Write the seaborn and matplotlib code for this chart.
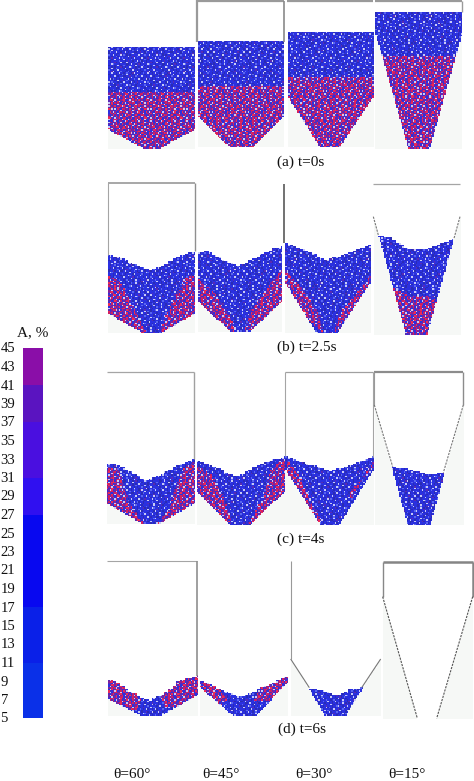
import numpy as np
import matplotlib
matplotlib.use("Agg")
import matplotlib.pyplot as plt
from matplotlib.colors import ListedColormap
from matplotlib.path import Path
import seaborn as sns

# ---------- data: colour bar ----------
scale_labels = list(range(45, 4, -2))
band_colors = ["#8a0ea8"] * 2 + ["#5a14c0"] * 2 + ["#4a0fe0"] * 3 + ["#3010f0"] * 2 + \
              ["#0808f0"] * 5 + ["#0a20e8"] * 3 + ["#0a30e8"] * 3
band_values = list(range(len(band_colors)))

# ---------- data: hopper geometry (3x crop units per row) ----------
row_origin = [(100, 0), (100, 180), (100, 370), (100, 555)]
# left, right, left shoulder y, right shoulder y, bottom y, outlet left, outlet right
hoppers = [
    [(24, 285, 388, 388, 445, 130, 178), (292, 552, 348, 348, 442, 390, 455),
     (562, 820, 288, 288, 442, 660, 718), (826, 1086, 100, 100, 447, 925, 988)],
    [(24, 285, 400, 400, 460, 130, 180), (292, 548, 360, 360, 455, 390, 450),
     (553, 812, 305, 305, 460, 650, 710), (820, 1080, 110, 110, 465, 918, 980)],
    [(20, 283, 400, 400, 460, 125, 178), (288, 553, 360, 365, 463, 388, 450),
     (556, 820, 298, 298, 463, 660, 718), (823, 1090, 105, 105, 465, 923, 990)],
    [(22, 292, 432, 420, 483, 128, 180), (297, 565, 395, 380, 483, 400, 465),
     (572, 842, 312, 312, 483, 675, 735), (848, 1118, 125, 125, 490, 952, 1010)],
]
# free surface of the bed
surfaces = [
    [[(24, 140), (285, 140)], [(292, 122), (552, 122)], [(562, 95), (820, 95)], [(826, 35), (1086, 35)]],
    [[(24, 225), (60, 232), (100, 250), (150, 272), (190, 255), (240, 225), (285, 213)],
     [(292, 215), (325, 213), (370, 240), (415, 258), (470, 230), (520, 205), (548, 197)],
     [(553, 188), (600, 205), (680, 238), (740, 220), (812, 195)],
     [(835, 165), (870, 172), (925, 208), (975, 208), (1058, 175)]],
    [[(20, 280), (50, 283), (100, 310), (140, 332), (190, 310), (240, 280), (283, 268)],
     [(288, 270), (330, 285), (410, 320), (480, 280), (553, 260)],
     [(560, 258), (620, 280), (690, 303), (750, 285), (820, 260)],
     [(878, 290), (920, 295), (980, 312), (1030, 308)]],
    [[(22, 372), (60, 385), (100, 415), (145, 437), (190, 415), (240, 375), (292, 362)],
     [(297, 372), (345, 395), (425, 425), (490, 395), (565, 362)],
     [(628, 398), (660, 405), (695, 418), (730, 415), (752, 400), (785, 398)],
     None],
]
# zones of the red-rich lower layer
red_zones = [
    [[[(0, 275), (300, 275), (300, 460), (0, 460)]],
     [[(280, 255), (560, 255), (560, 460), (280, 460)]],
     [[(550, 228), (830, 228), (830, 460), (550, 460)]],
     [[(815, 168), (1095, 168), (1095, 460), (815, 460)]]],
    [[[(24, 285), (60, 305), (100, 380), (135, 450), (130, 470), (24, 430)],
      [(285, 285), (255, 295), (225, 350), (195, 410), (175, 470), (285, 430)]],
     [[(292, 295), (345, 340), (390, 410), (410, 460), (292, 400)],
      [(548, 265), (510, 310), (455, 385), (430, 460), (548, 400)]],
     [[(553, 265), (610, 330), (655, 400), (670, 465), (553, 340)],
      [(812, 285), (760, 350), (715, 405), (700, 465), (812, 340)]],
     [[(880, 325), (920, 345), (980, 345), (1020, 365), (985, 470), (910, 470)]]],
    [[[(20, 285), (60, 300), (85, 395), (135, 465), (20, 430)],
      [(283, 275), (245, 300), (225, 355), (205, 415), (170, 465), (283, 430)]],
     [[(288, 285), (335, 315), (375, 395), (400, 465), (288, 400)],
      [(553, 262), (510, 300), (490, 380), (440, 465), (553, 400)]],
     [[(560, 270), (600, 320), (630, 390), (665, 450), (650, 465), (560, 340)],
      [(820, 270), (790, 320), (755, 385), (740, 375), (820, 290)]],
     []],
    [[[(22, 365), (70, 380), (125, 425), (110, 465), (22, 450)],
      [(292, 355), (235, 370), (180, 420), (200, 460), (292, 440)]],
     [[(297, 365), (350, 390), (385, 435), (360, 450), (297, 410)],
      [(565, 355), (485, 390), (460, 435), (510, 435), (565, 400)]],
     [],
     []],
]
# hopper wall segments: row, points, width, colour, style
walls = [
    (0, [(292, 0), (292, 125)], 1.6, "#9a9a9a", "-"), (0, [(292, 2), (552, 2)], 1.6, "#9a9a9a", "-"),
    (0, [(552, 2), (552, 125)], 1.2, "#8a8a8a", "-"), (0, [(562, 2), (820, 2)], 1.6, "#9a9a9a", "-"),
    (0, [(826, 3), (1086, 3)], 1.6, "#9a9a9a", "-"), (0, [(1086, 3), (1086, 35)], 1.0, "#9a9a9a", "-"),
    (1, [(24, 10), (285, 10)], 1.1, "#8f8f8f", "-"), (1, [(24, 10), (24, 225)], 0.8, "#a5a5a5", "-"),
    (1, [(285, 10), (285, 213)], 1.0, "#8f8f8f", "-"), (1, [(553, 12), (553, 190)], 1.1, "#4a4a4a", "-"),
    (1, [(820, 12), (1080, 12)], 0.9, "#a5a5a5", "-"),
    (1, [(820, 110), (835, 165)], 0.8, "#777777", (0, (2, 1))), (1, [(1080, 110), (1062, 175)], 0.8, "#777777", (0, (2, 1))),
    (2, [(20, 7), (283, 7)], 0.9, "#a5a5a5", "-"), (2, [(283, 7), (283, 268)], 1.0, "#a0a0a0", "-"),
    (2, [(556, 7), (820, 7)], 0.9, "#a0a0a0", "-"), (2, [(556, 7), (556, 258)], 0.8, "#a5a5a5", "-"),
    (2, [(820, 7), (820, 260)], 0.8, "#a5a5a5", "-"),
    (2, [(823, 5), (1090, 5)], 1.6, "#8c8c8c", "-"), (2, [(823, 5), (823, 105)], 0.8, "#999999", "-"),
    (2, [(1090, 5), (1090, 105)], 1.0, "#8c8c8c", "-"),
    (2, [(823, 105), (878, 290)], 0.8, "#777777", (0, (2, 1))), (2, [(1090, 105), (1030, 308)], 0.8, "#777777", (0, (2, 1))),
    (3, [(22, 17), (292, 17)], 0.8, "#a5a5a5", "-"), (3, [(292, 17), (292, 362)], 1.2, "#8f8f8f", "-"),
    (3, [(572, 17), (572, 312)], 0.8, "#999999", "-"), (3, [(572, 312), (628, 398)], 0.8, "#777777", "-"),
    (3, [(842, 312), (785, 398)], 0.8, "#777777", "-"),
    (3, [(848, 20), (1118, 20)], 1.8, "#858585", "-"), (3, [(848, 20), (848, 125)], 1.0, "#888888", "-"),
    (3, [(1118, 20), (1118, 125)], 1.8, "#858585", "-"),
    (3, [(848, 125), (952, 490)], 0.8, "#555555", (0, (2, 1))), (3, [(1118, 125), (1010, 490)], 0.8, "#555555", (0, (2, 1))),
]
# bed appearance, hand-typed speckle tiles
blue_tile = [
    "bbnbwbbnblbbnpwbbbnblbbw", "nbnbbnlbbwbnbnbbwnbbbnbb", "bwbnbbbnnbbpbbnlbbbwbbnb",
    "bbnbblwbbnbbwbnbbnbbnbpb", "lbnbnbbbbbwnbblbbwbnbbwn", "bnbwbbpnblbbbnbbnbblnbbb",
    "bbbnbnbwbbbnwbnbpbbbbwbl", "wnbbblbbnbbnbblbnbwnbbnb", "bnbpbbnbbwblnbbnbbbbblbb",
    "nbwbbnbblbnbbwbnbbpnbbwn", "bbnnbwbbnbpnbbbbwlbbbnbb", "lbnbbbbnwbbbblnbbbnbwbnb",
    "bnbbwlbbnbnbwbbbnbnbbbpn", "nwbbnbbpnblbbbnbwbnlbbbb", "bbnbbnwbbnbnbblbbnbbwnbb",
    "bnblnbbnbwbbnbbbpwnbbblb",
]
red_tile = [
    "prbwpmrbpbRwpbrmpbwrbpmr", "bmpRbprwrmbpRbpwbmRpbrwb", "wrbpmrRpbpwmrprbRpmbpRrp",
    "pbRwpbrbmRrpwrbmpbwrpbmw", "rmrpbRpwbprmrRbpmRbrwpRb", "bpwrmbpRrwbpmbwpRRrpmbrp",
    "RbpmrwRpbmRbpRrmrbpmwrpm", "pmrRpbmrwbpbwpRbpwrRpbRb", "wbrpbRrpmbRmprmrwpbmRrwp",
    "brpmwbpRbprbwRbpRRpmbpmb", "mpbRrmrbwpmRpbmwRbprbRpw", "RbwpmbprRbpRwbprrmpwbmrb",
    "pmbrpRbwmRrpbmRpbmrRpbpR", "bRprwmbpRpbmwrbpRbwmrbwm", "wpmRbprrbmpRbprmrpbpRRpb",
    "rRpbmwRpbwrbpmrwpRbmwpbr",
]
panel_labels = ["(a) t=0s", "(b) t=2.5s", "(c) t=4s", "(d) t=6s"]
label_xy = [(301, 162), (307, 347), (301, 539), (302, 729)]
angle_labels = ["θ=60°", "θ=45°", "θ=30°", "θ=15°"]
angle_x = [113, 202, 295, 388]

# ---------- figure ----------
sns.set_theme(style="white")
plt.rcParams["font.family"] = ["Liberation Serif", "DejaVu Sans"]
W, H, CELL = 474, 781, 1.5
fig = plt.figure(figsize=(W / 100, H / 100), dpi=100, facecolor="white")

codes = {"white": 0, "pale": 1, "b": 2, "n": 3, "l": 4, "w": 5, "p": 6, "r": 7, "R": 8, "m": 9}
palette = ["#ffffff", "#f6f8f6", "#2a30e0", "#2a2cb4", "#5a66ee", "#c8caf6",
           "#5a2ab4", "#cf1f62", "#ec2a55", "#85209a"]
blue_arr = np.array([[codes[c] for c in s] for s in blue_tile])
red_arr = np.array([[codes[c] for c in s] for s in red_tile])

ny, nx = int(np.ceil(H / CELL)), int(np.ceil(W / CELL))
xc = (np.arange(nx) + 0.5) * CELL
yc = (np.arange(ny) + 0.5) * CELL
XX, YY = np.meshgrid(xc, yc)
pts = np.column_stack([XX.ravel(), YY.ravel()])
field = np.zeros((ny, nx), dtype=int)
IY, IX = np.mgrid[0:ny, 0:nx]
TH, TW = blue_arr.shape


def to_px(row, p):
    ox, oy = row_origin[row]
    return ox + p[0] / 3, oy + p[1] / 3


for r in range(4):
    for c in range(4):
        L, R, sl, sr, bot, ol, orr = hoppers[r][c]
        poly = [to_px(r, p) for p in [(L, 0), (R, 0), (R, sr), (orr, bot), (ol, bot), (L, sl)]]
        inside = Path(poly).contains_points(pts).reshape(ny, nx)
        xl, yl = to_px(r, (L, min(sl, sr)))
        xr, yb = to_px(r, (R, bot))
        field[(XX >= xl) & (XX <= xr) & (YY >= yl) & (YY <= yb)] = codes["pale"]
        field[inside] = codes["white"]
        surf = surfaces[r][c]
        if surf is None:
            continue
        sx, sy = zip(*[to_px(r, p) for p in surf])
        flat = len(surf) == 2
        xq = XX if flat else np.floor(XX / 4) * 4 + 2
        bed = inside & (YY >= np.interp(xq, sx, sy))
        shift = 5 * r + 7 * c
        tile_b = blue_arr[(IY + shift) % TH, (IX + 2 * shift + 7 * (IY // TH)) % TW]
        tile_r = red_arr[(IY + 2 * shift) % TH, (IX + shift + 11 * (IY // TH)) % TW]
        field[bed] = tile_b[bed]
        for z in red_zones[r][c]:
            zp = Path([to_px(r, p) for p in z]).contains_points(pts).reshape(ny, nx)
            field[bed & zp] = tile_r[bed & zp]

ax = fig.add_axes([0, 0, 1, 1])
sns.heatmap(field, ax=ax, cmap=ListedColormap(palette), vmin=-0.5, vmax=len(palette) - 0.5,
            cbar=False, xticklabels=False, yticklabels=False)
ax.set_xlim(0, W / CELL)
ax.set_ylim(H / CELL, 0)
ax.axis("off")

# colour bar
cax = fig.add_axes([23 / W, 1 - 718 / H, 20 / W, 370 / H])
sns.heatmap(np.array(band_values)[:, None], ax=cax, cmap=ListedColormap(band_colors),
            cbar=False, xticklabels=False, yticklabels=False)
cax.axis("off")

# overlay in pixel units
ov = fig.add_axes([0, 0, 1, 1], facecolor="none")
ov.set_xlim(0, W)
ov.set_ylim(H, 0)
ov.axis("off")
for r, seg, lw, col, ls in walls:
    xs, ys = zip(*[to_px(r, p) for p in seg])
    ov.plot(xs, ys, color=col, lw=lw, ls=ls, solid_capstyle="butt")

for s, (x, y) in zip(panel_labels, label_xy):
    ov.text(x, y, s, fontsize=11, ha="center", va="center", color="#111111")
for s, x in zip(angle_labels, angle_x):
    ov.text(x, 775, s, fontsize=11, ha="left", va="center", color="#111111")
ov.text(17, 333, "A, %", fontsize=11, ha="left", va="center", color="#111111")
for i, v in enumerate(scale_labels):
    ov.text(0.5, 349 + 18.5 * i, str(v), fontsize=10.5, ha="left", va="center", color="#111111")

fig.savefig("out.png", dpi=100, facecolor="white")
